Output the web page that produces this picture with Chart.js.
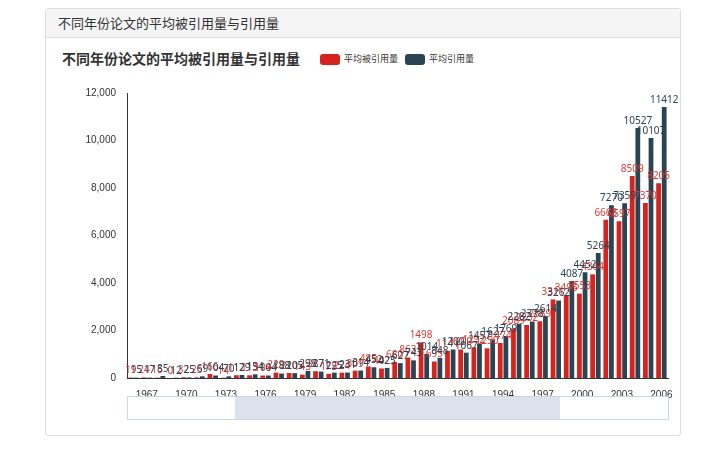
<!DOCTYPE html>
<html><head><meta charset="utf-8">
<script src="https://cdn.jsdelivr.net/npm/chart.js@4"></script>
<style>
body{margin:0;background:#fff;font-family:"Noto Sans CJK SC","Noto Sans",sans-serif;}
#panel{position:absolute;left:45px;top:8px;width:634px;height:426px;border:1px solid #ddd;border-radius:3px;}
#hdr{position:absolute;left:0;top:0;width:634px;height:28px;background:#f5f5f5;border-bottom:1px solid #ddd;font-size:13px;color:#333;line-height:28px;text-indent:12px;}
#title{position:absolute;left:62px;top:48px;font-size:14px;font-weight:bold;color:#333;}
.lg{position:absolute;top:52px;font-size:9px;color:#333;}
.lg span{display:inline-block;width:20px;height:11px;border-radius:3px;vertical-align:middle;margin-right:4px;}
#cw{position:absolute;left:46px;top:37px;width:633px;height:363px;}
#slider{position:absolute;left:127px;top:396px;width:540px;height:22px;border:1px solid #ccd6e0;background:#fff;}
#sel{position:absolute;left:107px;top:0;width:325px;height:22px;background:rgba(167,183,204,0.4);}
</style></head><body>
<div id="panel"><div id="hdr">不同年份论文的平均被引用量与引用量</div></div>
<div id="title">不同年份论文的平均被引用量与引用量</div>
<div class="lg" style="left:320px"><span style="background:#d7231e"></span>平均被引用量</div>
<div class="lg" style="left:405px"><span style="background:#2b4453"></span>平均引用量</div>
<div id="cw"><canvas id="c"></canvas></div>
<div id="slider"><div id="sel"></div></div>
<script>
const years=[1966,1967,1968,1969,1970,1971,1972,1973,1974,1975,1976,1977,1978,1979,1980,1981,1982,1983,1984,1985,1986,1987,1988,1989,1990,1991,1992,1993,1994,1995,1996,1997,1998,1999,2000,2001,2002,2003,2004,2005,2006];
const citedAvg=[19,24,15,0,32,25,166,14,117,113,104,229,210,143,287,175,224,309,485,402,680,863,1498,695,1141,1200,1292,1250,1474,2089,2232,2389,3311,3495,3553,4364,6663,6597,8509,7370,8205];
const refAvg=[15,17,85,12,25,69,104,70,129,154,104,188,205,298,271,225,231,314,452,425,627,743,1014,848,1200,1067,1457,1627,1769,2282,2378,2614,3262,4087,4452,5264,7270,7359,10527,10107,11412];
const labelsPlugin={id:'lbl',afterDatasetsDraw(ch){const ctx=ch.ctx;ctx.save();ctx.font='10px "Noto Sans","DejaVu Sans",sans-serif';ctx.textAlign='center';ctx.textBaseline='bottom';
ch.data.datasets.forEach((ds,i)=>{ctx.fillStyle=i==0?'#e03a34':'#2b4453';ch.getDatasetMeta(i).data.forEach((b,j)=>{ctx.fillText(ds.data[j],b.x,b.y-2);});});ctx.restore();}};
new Chart(document.getElementById('c'),{type:'bar',data:{labels:years.map(String),datasets:[
{label:'平均被引用量',data:citedAvg,backgroundColor:'#d7231e'},
{label:'平均引用量',data:refAvg,backgroundColor:'#2b4453'}]},
options:{responsive:true,maintainAspectRatio:false,animation:false,layout:{padding:{top:56,right:11}},
plugins:{legend:{display:false},tooltip:{enabled:false}},
datasets:{bar:{barPercentage:0.85,categoryPercentage:0.85}},
scales:{x:{grid:{display:false,drawTicks:true},border:{color:'#333'},afterFit(a){a.height=22;},
ticks:{autoSkip:false,maxRotation:0,color:'#333',font:{size:10},callback(v,i){return (years[i]-1967)%3===0?years[i]:'';}}},
y:{min:0,max:12000,grid:{display:false},border:{color:'#333'},afterFit(a){a.width=81;},
ticks:{stepSize:2000,color:'#333',font:{size:10},callback:v=>v.toLocaleString('en-US')}}}},
plugins:[labelsPlugin]});
</script></body></html>
